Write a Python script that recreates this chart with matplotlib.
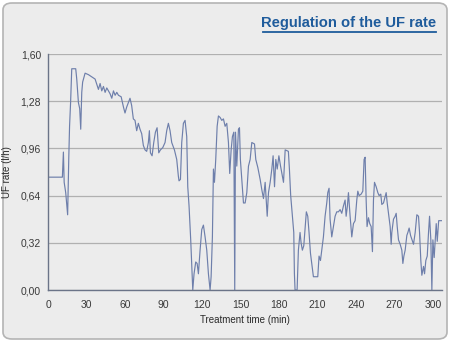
import matplotlib
matplotlib.use("Agg")
import matplotlib.pyplot as plt
from matplotlib.patches import FancyBboxPatch
from matplotlib.ticker import FuncFormatter
from matplotlib.lines import Line2D
from matplotlib import font_manager

title = "Regulation of the UF rate"
x_label = "Treatment time (min)"
y_label = "UF rate (l/h)"
x_ticks = [0, 30, 60, 90, 120, 150, 180, 210, 240, 270, 300]
y_ticks = [0.0, 0.32, 0.64, 0.96, 1.28, 1.60]

time_min = [0, 11.2, 12.0, 12.6, 13.8, 15.3, 16.2, 16.8, 17.6, 18.5, 21.6, 22.4, 23.7,
            24.7, 25.5, 26.3, 27.0, 28.9, 31.5, 36.7, 39.3, 40.6, 41.9, 43.2, 44.5,
            45.8, 48.4, 49.7, 51.0, 52.3, 53.6, 54.9, 57.0, 58.8,
            60.0, 61.3, 62.6, 63.9, 65.2, 66.5, 67.8, 69.1, 70.4, 71.7, 73.0, 74.3,
            75.6, 76.9, 78.2, 79.0, 79.8, 81.1, 82.4, 83.7, 85.0, 86.3, 87.6, 89.4,
            91.2, 92.5, 93.8, 95.1, 96.4, 98.5, 100.3, 101.6, 102.1, 103.2, 104.2,
            105.5, 106.8, 108.1, 108.9, 109.9, 111.2, 112.8, 113.8, 115.1, 116.2,
            117.2, 118.5, 119.8, 121.1,
            122.4, 123.7, 125.0, 126.3, 127.1, 128.1, 128.9, 129.7, 130.7, 131.8,
            132.8, 134.1, 135.4, 136.7, 138.0, 139.3, 140.6, 141.6, 142.7, 143.7,
            144.8, 145.5, 146.1, 147.1, 148.4, 149.2, 149.9, 151.0, 152.3, 153.6,
            154.9, 156.2, 157.5, 158.8, 160.9, 161.9, 163.5, 165.3, 166.6, 167.9,
            169.2, 170.0, 170.8, 171.8, 173.1, 174.4, 175.4, 176.5, 177.5, 178.6,
            179.9, 181.2, 183.5, 184.8,
            187.3, 188.1, 189.1, 190.4, 191.5, 192.0, 192.5, 194.1, 195.1, 196.4,
            197.2, 198.2, 199.3, 201.3, 202.4, 203.4, 204.5, 205.5, 206.8, 208.1,
            210.2, 211.2, 212.3, 213.3, 214.6, 215.9, 217.2, 218.0, 219.0, 219.8,
            221.1, 222.4, 223.7, 225.0, 226.3, 227.6, 228.9, 230.2, 231.5, 232.3,
            233.3, 234.1, 235.4, 236.7, 238.0, 239.3, 240.6, 241.4, 242.4, 244.0,
            245.3, 246.3,
            247.1, 247.9, 248.6, 249.7, 250.7, 251.8, 252.8, 253.6, 254.4, 255.7,
            257.0, 258.0, 259.3, 260.1, 261.4, 263.5, 264.3, 265.3, 266.6, 267.4,
            267.9, 269.2, 270.5, 271.3, 272.1, 273.1, 274.4, 275.7, 276.5, 277.3,
            278.3, 279.6, 280.4, 281.4, 282.5, 284.8, 286.1, 287.4, 288.7, 289.5,
            290.5, 291.3, 292.6, 293.4, 294.4, 295.5, 296.5, 297.3, 298.3, 299.1,
            299.9, 300.9, 301.7, 302.5, 303.3, 304.4, 305.6, 307.0]
uf_rate = [0.765, 0.765, 0.935, 0.73, 0.66, 0.51, 0.90, 1.11, 1.27, 1.50, 1.50, 1.43, 1.27,
           1.23, 1.09, 1.34, 1.41, 1.47, 1.46, 1.43, 1.36, 1.40, 1.35, 1.38, 1.34,
           1.37, 1.33, 1.30, 1.35, 1.32, 1.34, 1.32, 1.31, 1.24,
           1.20, 1.24, 1.27, 1.30, 1.25, 1.16, 1.15, 1.08, 1.13, 1.09, 1.06, 0.98,
           0.95, 0.94, 1.00, 1.08, 0.93, 0.91, 1.00, 1.07, 1.10, 0.93, 0.95, 0.965,
           1.00, 1.08, 1.13, 1.08, 1.00, 0.95, 0.885, 0.77, 0.74, 0.75, 1.00,
           1.13, 1.15, 1.04, 0.70, 0.57, 0.34, 0.00, 0.11, 0.19, 0.18,
           0.11, 0.27, 0.41, 0.44,
           0.36, 0.27, 0.11, 0.00, 0.09, 0.36, 0.82, 0.73, 0.885, 1.11,
           1.18, 1.17, 1.15, 1.16, 1.11, 1.13, 1.00, 0.79, 0.95, 1.04,
           1.07, 0.00, 1.07, 0.84, 1.09, 1.10, 0.885, 0.75, 0.59, 0.59,
           0.66, 0.84, 0.885, 1.00, 0.99, 0.885, 0.83, 0.75, 0.68, 0.62,
           0.73, 0.61, 0.50, 0.66, 0.73, 0.82, 0.91, 0.70, 0.885, 0.82,
           0.91, 0.84, 0.73, 0.95,
           0.94, 0.82, 0.64, 0.50, 0.39, 0.11, 0.00, 0.00, 0.27, 0.39,
           0.32, 0.27, 0.30, 0.53, 0.50, 0.39, 0.25, 0.18, 0.09, 0.09,
           0.09, 0.23, 0.20, 0.27, 0.36, 0.50, 0.59, 0.66, 0.69, 0.48,
           0.36, 0.43, 0.50, 0.53, 0.53, 0.545, 0.52, 0.57, 0.61, 0.50,
           0.57, 0.66, 0.50, 0.36, 0.45, 0.47, 0.61, 0.67, 0.64, 0.65,
           0.67, 0.885,
           0.90, 0.61, 0.43, 0.49, 0.45, 0.43, 0.26, 0.61, 0.73, 0.70,
           0.66, 0.64, 0.65, 0.58, 0.59, 0.66, 0.59, 0.52, 0.43, 0.31,
           0.39, 0.48, 0.50, 0.52, 0.43, 0.34, 0.31, 0.27, 0.18, 0.23,
           0.27, 0.37, 0.39, 0.42, 0.37, 0.31, 0.39, 0.51, 0.50, 0.39,
           0.20, 0.10, 0.16, 0.11, 0.20, 0.23, 0.39, 0.50, 0.34, 0.00,
           0.34, 0.22, 0.34, 0.45, 0.33, 0.47, 0.47, 0.47]

W, H = 450, 342
fig = plt.figure(figsize=(W / 100, H / 100), dpi=100)
fig.patch.set_facecolor("white")
bg = FancyBboxPatch((3 / W, 3 / H), (W - 6) / W, (H - 6) / H,
                    boxstyle="round,pad=0,rounding_size=0.02",
                    transform=fig.transFigure, facecolor="#ececec",
                    edgecolor="#b4b4b4", linewidth=1.2, zorder=-10)
fig.patches.append(bg)

ax = fig.add_axes([48 / W, 1 - 290 / H, (442 - 48) / W, (290 - 54) / H], zorder=1)
ax.set_facecolor("none")
ax.plot(time_min, uf_rate, color="#6e7fab", linewidth=0.85)
ax.set_xlim(0, 307)
ax.set_ylim(0, 1.60)
ax.set_xticks(x_ticks)
ax.set_yticks(y_ticks)
ax.yaxis.set_major_formatter(FuncFormatter(lambda v, p: f"{v:.2f}".replace(".", ",")))
ax.grid(axis="y", color="#b0b0b0", linewidth=0.9)
ax.set_axisbelow(True)
for s in ["top", "right"]:
    ax.spines[s].set_visible(False)
for s in ["left", "bottom"]:
    ax.spines[s].set_color("#6b7488")
    ax.spines[s].set_linewidth(1.0)
ax.tick_params(axis="both", length=0, labelsize=7.5, labelcolor="#3a3a3a")
ax.tick_params(axis="x", pad=7)
ax.tick_params(axis="y", pad=5)
for lab in ax.get_xticklabels() + ax.get_yticklabels():
    lab.set_family("Liberation Sans")
ax.set_xlabel(x_label, fontsize=7, color="#2a2a2a", family="Liberation Sans", labelpad=4)
ax.set_ylabel(y_label, fontsize=7, color="#2a2a2a", family="Liberation Sans", labelpad=6)

names = {f.name for f in font_manager.fontManager.ttflist}
title_family = "Liberation Sans Narrow" if "Liberation Sans Narrow" in names else "Liberation Sans"
title_size = 14 if title_family == "Liberation Sans Narrow" else 10.6
fig.text(436 / W, 1 - 23 / H, title, ha="right", va="center", fontsize=title_size,
         fontweight="bold", color="#1f5c9c", family=title_family)
fig.add_artist(Line2D([263 / W, 436 / W], [1 - 32 / H, 1 - 32 / H],
                      transform=fig.transFigure, color="#1f5c9c", linewidth=1.3))

fig.savefig("out.png", dpi=100, facecolor=fig.get_facecolor())
